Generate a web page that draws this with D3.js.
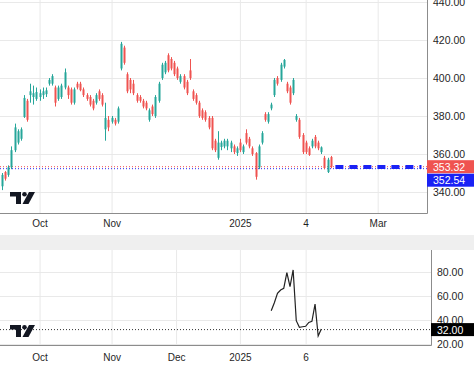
<!DOCTYPE html>
<html><head><meta charset="utf-8">
<script src="https://cdn.jsdelivr.net/npm/d3@7"></script>
<style>
html,body{margin:0;padding:0;background:#fff;}
svg{display:block;font-family:"Liberation Sans",Arial,sans-serif;}
</style></head>
<body><svg id="c" width="474" height="366"></svg>
<script>
// ---- data (bar index = trading day) ----
const opens  = [343,350.5,349,353,362,366,368,379.5,388,391,390,389,390,391,391.5,397,397,395,389,390,395,395,394,387,397,397,394,391,390,388,387,393,391,373,378,377,378,377,405,416,402,399,397,391,390,388,387,378,385,380,388,400,403,412,410,408,405,398,401,398,404,393,391,387,383,382,379,379,367,358,363.7,364,364,363,364,360.5,366,361,371,368,363,360.5,353,366,381,377,384,391,400,399,406,397,395,392,378,378,370,366,363,364,369,366,361,358,350.5,358.4];
const closes = [349,347,353,362,374,372,373,389.5,378,393,392,392.6,392,393,393.5,399,401,387,395,396,403,391,387,394,395,393.6,391,389,386,384,391,389,386,379,374,379,376,384,418,408,393,394,392,388,388,385,384,383,381,390,397,407,408,404,405,402,400,401,395,392,400,389,387,380,379,378,374,363,362,366,366,367,367,366,361,363,362,364,366,364,360,348,364,371,378,381,386,399,397,407,409.5,393,387,399,380,369,361,361,359.5,367,364,363,363.5,352.6,357,353.32];
const highs  = [350,351,354,364,376,373,374,391,389,397,396,395,394,395,395,400,402,396,396,397,405,396,395,395,398,398,395,392,391,389,392,394,392,387,380,380,379,385,419,417,403,400,399,392,391,389,388,384,386,391,398,408,409,413,411,409,406,402,402,399,410,394,392,388,384,383,380,380,368,372,367,368,368,367,365,364,368,365,373,369,364,361,365,372,382,382,387,400,401,408,410,398,396,400,381,379,371,367,364,368,370,367,364,359,358,359];
const lows   = [341,346,348,352,361,365,367,379,377,387,386,388,388,389,390,396,396,385,388,389,394,389,386,386,394,393,390,388,385,383,386,388,385,367,372,376,375,376,404,407,392,392,391,387,387,384,383,377,380,379,387,399,402,403,404,401,399,397,394,391,399,388,386,379,378,377,373,362,361,357,362,363,362,361,360,359,361,360,365,363,359,346.5,352,365,377,376,383,390,396,398,405,392,386,391,377,368,360,360,359,363,363,362,360,352,350,352.5];
const lastPrice = 353.32;
const refPrice = 352.54;
const projectionPrice = 353.2;
const indStart = 86;
const indicator = [47.7,54.4,62.2,65,66.4,79.4,67.75,81.7,39.4,33.9,34.4,34.75,38,38.9,53.3,26.7,32.5];
const indLevel = 32.00;
const priceTicks = [340,360,380,400,420,440];
const indTicks = [20,40,60,80];
const mainXTickIdx = [12,35,76,97,120];
const mainXTickLabels = ["Oct","Nov","2025","4","Mar"];
const lowXTickIdx = [12,35,55.6,76,97];
const lowXTickLabels = ["Oct","Nov","Dec","2025","6"];
const projIdx = [106.5,134];

// ---- scales ----
const svg = d3.select("#c");
const x = d3.scaleLinear().domain([0,105]).range([2,330.7]);
const yM = d3.scaleLinear().domain([340,440]).range([192,2]);
const yL = d3.scaleLinear().domain([20,80]).range([344,272]);
const UP="#26a69a", DN="#ef5350", GRID="#e9e9e9", TXT="#1f1f1f";
const mainR=427, mainB=213, lowT=250, lowR=431, lowB=345;

// ---- main pane grid ----
const gM = svg.append("g");
gM.append("g").attr("transform",`translate(${mainR},0)`)
  .call(d3.axisLeft(yM).tickValues(priceTicks).tickSize(mainR).tickFormat(""))
  .call(g=>{g.select(".domain").remove();g.selectAll("line").attr("stroke",GRID);});
gM.append("g").attr("transform",`translate(0,${mainB})`)
  .call(d3.axisTop(x).tickValues(mainXTickIdx).tickSize(mainB).tickFormat(""))
  .call(g=>{g.select(".domain").remove();g.selectAll("line").attr("stroke",GRID);});

// reference dotted lines
gM.append("line").attr("x1",0).attr("x2",mainR).attr("y1",yM(lastPrice)).attr("y2",yM(lastPrice))
  .attr("stroke",DN).attr("stroke-dasharray","1,2");
gM.append("line").attr("x1",0).attr("x2",mainR).attr("y1",yM(refPrice)+0.5).attr("y2",yM(refPrice)+0.5)
  .attr("stroke","#2a2cf0").attr("stroke-dasharray","1,2");

// candles
const idx = d3.range(opens.length);
const cg = gM.append("g");
cg.selectAll("line.w").data(idx).join("line")
  .attr("x1",i=>Math.round(x(i))+0.5).attr("x2",i=>Math.round(x(i))+0.5)
  .attr("y1",i=>yM(highs[i])).attr("y2",i=>yM(lows[i]))
  .attr("stroke",i=>closes[i]>=opens[i]?UP:DN).attr("stroke-width",1);
cg.selectAll("rect.b").data(idx).join("rect")
  .attr("x",i=>Math.round(x(i))-0.5).attr("width",2)
  .attr("y",i=>yM(Math.max(opens[i],closes[i])))
  .attr("height",i=>Math.max(1,Math.abs(yM(opens[i])-yM(closes[i]))))
  .attr("fill",i=>closes[i]>=opens[i]?UP:DN);

// projection dashed line
gM.append("line").attr("x1",x(projIdx[0])).attr("x2",x(projIdx[1]))
  .attr("y1",yM(projectionPrice)).attr("y2",yM(projectionPrice))
  .attr("stroke","#1a22f5").attr("stroke-width",4).attr("stroke-dasharray","8,6");

// borders
gM.append("line").attr("x1",mainR+0.5).attr("x2",mainR+0.5).attr("y1",0).attr("y2",mainB+0.5).attr("stroke","#8c8c8c");
gM.append("line").attr("x1",0).attr("x2",mainR+0.5).attr("y1",mainB+0.5).attr("y2",mainB+0.5).attr("stroke","#8c8c8c");

// price labels
gM.append("g").attr("transform",`translate(${mainR+6},0)`)
  .call(d3.axisRight(yM).tickValues(priceTicks).tickSize(0).tickPadding(0).tickFormat(d3.format(".2f")))
  .call(g=>{g.select(".domain").remove();g.selectAll("text").attr("fill",TXT).attr("font-size",10.5).attr("font-family","Liberation Sans, Arial");});
function tag(g,y,fill,txt){
  g.append("rect").attr("x",mainR).attr("y",y-6.5).attr("width",474-mainR).attr("height",13).attr("fill",fill);
  g.append("text").attr("x",mainR+6).attr("y",y+4).attr("fill","#fff").attr("font-size",10.5).text(txt);
}
tag(gM,yM(lastPrice),DN,d3.format(".2f")(lastPrice));
tag(gM,yM(lastPrice)+13.5,"#1a22f5",d3.format(".2f")(refPrice));

// x labels main
gM.append("g").attr("transform",`translate(0,${mainB+7})`)
  .call(d3.axisBottom(x).tickValues(mainXTickIdx).tickSize(0).tickPadding(0).tickFormat((d,i)=>mainXTickLabels[i]))
  .call(g=>{g.select(".domain").remove();g.selectAll("text").attr("fill",TXT).attr("font-size",10).attr("font-family","Liberation Sans, Arial");});

// separator band
svg.append("rect").attr("x",0).attr("y",235).attr("width",474).attr("height",15).attr("fill","#efefef");

// ---- lower pane ----
const gL = svg.append("g");
gL.append("g").attr("transform",`translate(${lowR},0)`)
  .call(d3.axisLeft(yL).tickValues(indTicks).tickSize(lowR).tickFormat(""))
  .call(g=>{g.select(".domain").remove();g.selectAll("line").attr("stroke",GRID);});
gL.append("g").attr("transform",`translate(0,${lowB})`)
  .call(d3.axisTop(x).tickValues(lowXTickIdx).tickSize(lowB-lowT).tickFormat(""))
  .call(g=>{g.select(".domain").remove();g.selectAll("line").attr("stroke",GRID);});
gL.append("line").attr("x1",0).attr("x2",lowR).attr("y1",yL(indLevel)).attr("y2",yL(indLevel))
  .attr("stroke","#333").attr("stroke-dasharray","1,2");
gL.append("path").datum(indicator)
  .attr("d",d3.line().x((d,i)=>x(indStart+i)).y(d=>yL(d)))
  .attr("fill","none").attr("stroke","#222").attr("stroke-width",1.2);
gL.append("line").attr("x1",lowR+0.5).attr("x2",lowR+0.5).attr("y1",lowT).attr("y2",lowB+0.5).attr("stroke","#8c8c8c");
gL.append("line").attr("x1",0).attr("x2",lowR+0.5).attr("y1",lowB+0.5).attr("y2",lowB+0.5).attr("stroke","#8c8c8c");
gL.append("g").attr("transform",`translate(${lowR+6},0)`)
  .call(d3.axisRight(yL).tickValues(indTicks).tickSize(0).tickPadding(0).tickFormat(d3.format(".2f")))
  .call(g=>{g.select(".domain").remove();g.selectAll("text").attr("fill",TXT).attr("font-size",10.5).attr("font-family","Liberation Sans, Arial");});
gL.append("rect").attr("x",lowR).attr("y",yL(indLevel)-6.5).attr("width",474-lowR).attr("height",13).attr("fill","#000");
gL.append("text").attr("x",lowR+6).attr("y",yL(indLevel)+4).attr("fill","#fff").attr("font-size",10.5).text(d3.format(".2f")(indLevel));
gL.append("g").attr("transform",`translate(0,${lowB+9})`)
  .call(d3.axisBottom(x).tickValues(lowXTickIdx).tickSize(0).tickPadding(0).tickFormat((d,i)=>lowXTickLabels[i]))
  .call(g=>{g.select(".domain").remove();g.selectAll("text").attr("fill",TXT).attr("font-size",10).attr("font-family","Liberation Sans, Arial");});

// logos
function logo(tx,ty){
  const g=svg.append("g").attr("transform",`translate(${tx},${ty})`).attr("fill","#131722");
  g.append("path").attr("d","M0,0H11V12H6V4.5H0Z");
  g.append("circle").attr("cx",14.5).attr("cy",2.3).attr("r",2.3);
  g.append("path").attr("d","M19,0H25L18.5,12H12.5Z");
}
logo(10,192);
logo(10,325);
</script></body></html>
